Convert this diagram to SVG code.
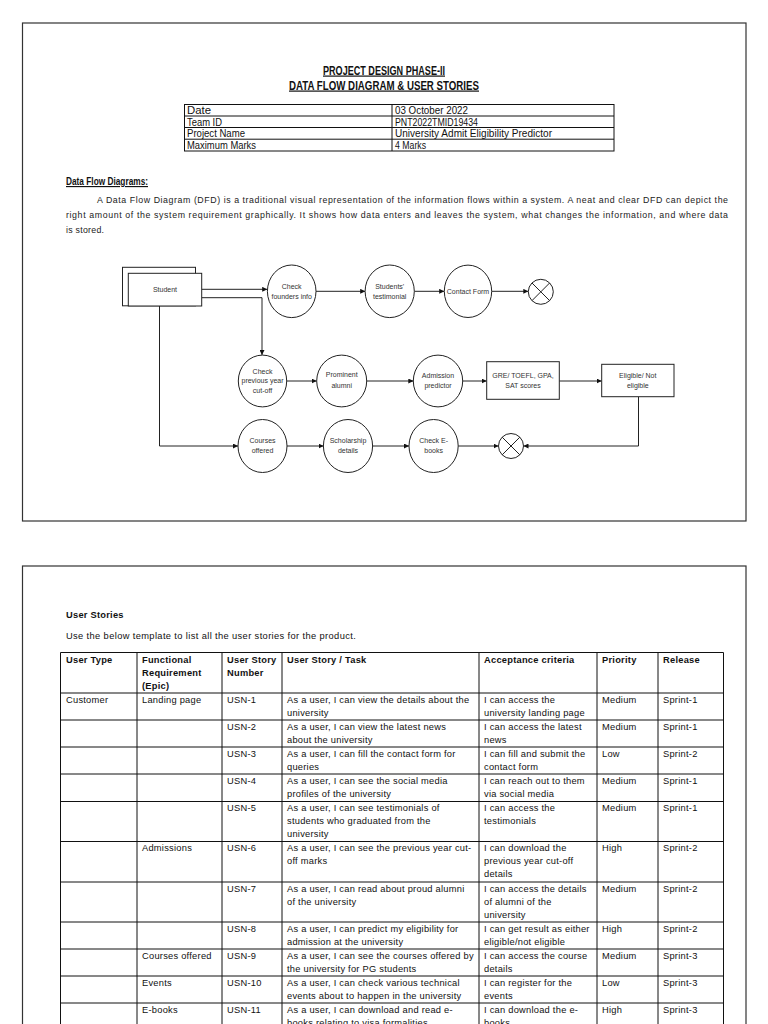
<svg xmlns="http://www.w3.org/2000/svg" width="768" height="1024" viewBox="0 0 768 1024">
<defs>
<marker id="arr" viewBox="0 0 6 6" refX="6" refY="3" markerWidth="5" markerHeight="5" markerUnits="userSpaceOnUse" orient="auto">
<path d="M0,0 L6,3 L0,6 z" fill="#111"/>
</marker>
</defs>
<style>
.frame{fill:#fff;stroke:#333;stroke-width:1.2}
.title{font-family:"Liberation Sans",Arial,sans-serif;font-weight:bold;font-size:12px;text-anchor:middle;text-decoration:underline;fill:#111}
.ht{font-family:"Liberation Sans",Arial,sans-serif;font-size:10.5px;fill:#111}
.grid{stroke:#111;stroke-width:1;fill:none}
.h2{font-family:"Liberation Sans",Arial,sans-serif;font-weight:bold;font-size:11.5px;text-decoration:underline;fill:#111}
.para{font-family:"Liberation Sans",Arial,sans-serif;font-size:8.8px;fill:#222}
.node{fill:#fff;stroke:#222;stroke-width:1}
.nt{font-family:"Liberation Sans",Arial,sans-serif;font-size:7px;fill:#333;text-anchor:middle}
.conn path{fill:none;stroke:#222;stroke-width:1;marker-end:url(#arr)}
.tb{font-family:"Liberation Sans",Arial,sans-serif;font-size:9.3px;letter-spacing:0.25px;fill:#111}
.tbh{font-family:"Liberation Sans",Arial,sans-serif;font-size:9.3px;letter-spacing:0.25px;font-weight:bold;fill:#111}
</style>
<rect width="768" height="1024" fill="#fff"/>

<!-- Page 1 -->
<rect class="frame" x="22.5" y="23" width="723.5" height="498"/>
<text class="title" x="384" y="74.5" textLength="122" lengthAdjust="spacingAndGlyphs">PROJECT DESIGN PHASE-II</text>
<text class="title" x="384" y="89.5" textLength="190" lengthAdjust="spacingAndGlyphs">DATA FLOW DIAGRAM &amp; USER STORIES</text>

<g id="header-table">
<rect class="grid" x="184.5" y="104.5" width="429.5" height="46.5"/>
<path class="grid" d="M392,104.5 V151 M184.5,116 H614 M184.5,127.5 H614 M184.5,139.2 H614"/>
<text class="ht" x="187" y="114" textLength="24" lengthAdjust="spacingAndGlyphs">Date</text>
<text class="ht" x="187" y="125.5" textLength="35" lengthAdjust="spacingAndGlyphs">Team ID</text>
<text class="ht" x="187" y="137" textLength="58" lengthAdjust="spacingAndGlyphs">Project Name</text>
<text class="ht" x="187" y="148.5" textLength="69" lengthAdjust="spacingAndGlyphs">Maximum Marks</text>
<text class="ht" x="395" y="114" textLength="73" lengthAdjust="spacingAndGlyphs">03 October 2022</text>
<text class="ht" x="395" y="125.5" textLength="83" lengthAdjust="spacingAndGlyphs">PNT2022TMID19434</text>
<text class="ht" x="395" y="137" textLength="157" lengthAdjust="spacingAndGlyphs">University Admit Eligibility Predictor</text>
<text class="ht" x="395" y="148.5" textLength="31" lengthAdjust="spacingAndGlyphs">4 Marks</text>
</g>

<text class="h2" x="66" y="185" textLength="82" lengthAdjust="spacingAndGlyphs">Data Flow Diagrams:</text>
<text class="para" x="97" y="203" textLength="631" lengthAdjust="spacing">A Data Flow Diagram (DFD) is a traditional visual representation of the information flows within a system. A neat and clear DFD can depict the</text>
<text class="para" x="66" y="218" textLength="662" lengthAdjust="spacing">right amount of the system requirement graphically. It shows how data enters and leaves the system, what changes the information, and where data</text>
<text class="para" x="66" y="233" textLength="38" lengthAdjust="spacing">is stored.</text>

<!-- DFD connectors -->
<g id="connectors" class="conn">
<path d="M201.7,289.3 H267.2"/>
<path d="M201.7,297.7 H262 V355"/>
<path d="M159.5,306 V446 H238"/>
<path d="M316,291.3 H365.2"/>
<path d="M414.3,291.3 H444.2"/>
<path d="M491.7,291.3 H528.3"/>
<path d="M287,381 H316.7"/>
<path d="M366.7,381 H413.3"/>
<path d="M462.7,381 H486.7"/>
<path d="M559.3,381 H601.7"/>
<path d="M638.5,396.7 V446 H523.5"/>
<path d="M287,446 H323.5"/>
<path d="M372.7,446 H409"/>
<path d="M458.2,446 H498.5"/>
</g>

<!-- DFD nodes -->
<g id="student">
<rect class="node" x="122.5" y="267.3" width="73" height="38.5"/>
<rect class="node" x="128.3" y="273.3" width="73.4" height="32.7"/>
<text class="nt" x="165" y="291.5">Student</text>
</g>
<g id="check-founders">
<ellipse class="node" cx="291.7" cy="291.3" rx="24.3" ry="26.3"/>
<text class="nt" x="291.7" y="289.3">Check</text>
<text class="nt" x="291.7" y="299.3">founders info</text>
</g>
<g id="students-testimonial">
<ellipse class="node" cx="389.7" cy="291.3" rx="24.6" ry="26.3"/>
<text class="nt" x="389.7" y="289.3">Students'</text>
<text class="nt" x="389.7" y="299.3">testimonial</text>
</g>
<g id="contact-form">
<ellipse class="node" cx="468" cy="291.3" rx="23.7" ry="26.2"/>
<text class="nt" x="468" y="293.8">Contact Form</text>
</g>
<g id="end-1">
<circle class="node" cx="540.8" cy="291.8" r="12.5"/>
<path class="node" d="M532,283 L549.6,300.6 M549.6,283 L532,300.6"/>
</g>
<g id="check-previous">
<ellipse class="node" cx="262.5" cy="381" rx="24.2" ry="25.9"/>
<text class="nt" x="262.5" y="373.8">Check</text>
<text class="nt" x="262.5" y="383">previous year</text>
<text class="nt" x="262.5" y="392.8">cut-off</text>
</g>
<g id="prominent-alumni">
<ellipse class="node" cx="341.7" cy="381" rx="25" ry="25.9"/>
<text class="nt" x="341.7" y="376.5">Prominent</text>
<text class="nt" x="341.7" y="388">alumni</text>
</g>
<g id="admission-predictor">
<ellipse class="node" cx="438" cy="381" rx="24.7" ry="25.9"/>
<text class="nt" x="438" y="377.5">Admission</text>
<text class="nt" x="438" y="387.5">predictor</text>
</g>
<g id="scores">
<rect class="node" x="486.7" y="361.7" width="72.6" height="37.6"/>
<text class="nt" x="523" y="377.5">GRE/ TOEFL, GPA,</text>
<text class="nt" x="523" y="387.5">SAT scores</text>
</g>
<g id="eligible">
<rect class="node" x="601.7" y="364.3" width="72.3" height="32.4"/>
<text class="nt" x="637.8" y="377.5">Eligible/ Not</text>
<text class="nt" x="637.8" y="387.5">eligible</text>
</g>
<g id="courses-offered">
<ellipse class="node" cx="262.5" cy="446" rx="24.5" ry="26.5"/>
<text class="nt" x="262.5" y="442.5">Courses</text>
<text class="nt" x="262.5" y="452.5">offered</text>
</g>
<g id="scholarship-details">
<ellipse class="node" cx="348" cy="446" rx="24.6" ry="26.5"/>
<text class="nt" x="348" y="442.5">Scholarship</text>
<text class="nt" x="348" y="452.5">details</text>
</g>
<g id="check-ebooks">
<ellipse class="node" cx="433.6" cy="446" rx="24.6" ry="26.5"/>
<text class="nt" x="433.6" y="442.5">Check E-</text>
<text class="nt" x="433.6" y="452.5">books</text>
</g>
<g id="end-2">
<circle class="node" cx="511" cy="446" r="12.5"/>
<path class="node" d="M502.2,437.2 L519.8,454.8 M519.8,437.2 L502.2,454.8"/>
</g>

<!-- Page 2 -->
<rect class="frame" x="22.5" y="566" width="723.5" height="470"/>
<text class="tbh" x="66" y="618">User Stories</text>
<text class="tb" x="66" y="639" textLength="290" lengthAdjust="spacing">Use the below template to list all the user stories for the product.</text>

<g id="user-stories-table">
<path class="grid" d="M60.5,652.5 H723.5 M60.5,693 H723.5 M60.5,720 H723.5 M60.5,747 H723.5 M60.5,774 H723.5 M60.5,801.5 H723.5 M60.5,841.5 H723.5 M60.5,882 H723.5 M60.5,922 H723.5 M60.5,949 H723.5 M60.5,976 H723.5 M60.5,1003 H723.5
M60.5,652.5 V1030 M137,652.5 V1030 M222,652.5 V1030 M282,652.5 V1030 M479,652.5 V1030 M597,652.5 V1030 M658,652.5 V1030 M723.5,652.5 V1030"/>
<text class="tbh" x="66" y="663">User Type</text>
<text class="tbh" x="142" y="663">Functional</text>
<text class="tbh" x="142" y="676">Requirement</text>
<text class="tbh" x="142" y="689">(Epic)</text>
<text class="tbh" x="227" y="663">User Story</text>
<text class="tbh" x="227" y="676">Number</text>
<text class="tbh" x="287" y="663">User Story / Task</text>
<text class="tbh" x="484" y="663">Acceptance criteria</text>
<text class="tbh" x="602" y="663">Priority</text>
<text class="tbh" x="663" y="663">Release</text>

<text class="tb" x="66" y="703">Customer</text>
<text class="tb" x="142" y="703">Landing page</text>
<text class="tb" x="227" y="703">USN-1</text>
<text class="tb" x="287" y="703">As a user, I can view the details about the</text>
<text class="tb" x="287" y="716">university</text>
<text class="tb" x="484" y="703">I can access the</text>
<text class="tb" x="484" y="716">university landing page</text>
<text class="tb" x="602" y="703">Medium</text>
<text class="tb" x="663" y="703">Sprint-1</text>

<text class="tb" x="227" y="730">USN-2</text>
<text class="tb" x="287" y="730">As a user, I can view the latest news</text>
<text class="tb" x="287" y="743">about the university</text>
<text class="tb" x="484" y="730">I can access the latest</text>
<text class="tb" x="484" y="743">news</text>
<text class="tb" x="602" y="730">Medium</text>
<text class="tb" x="663" y="730">Sprint-1</text>

<text class="tb" x="227" y="757">USN-3</text>
<text class="tb" x="287" y="757">As a user, I can fill the contact form for</text>
<text class="tb" x="287" y="770">queries</text>
<text class="tb" x="484" y="757">I can fill and submit the</text>
<text class="tb" x="484" y="770">contact form</text>
<text class="tb" x="602" y="757">Low</text>
<text class="tb" x="663" y="757">Sprint-2</text>

<text class="tb" x="227" y="784">USN-4</text>
<text class="tb" x="287" y="784">As a user, I can see the social media</text>
<text class="tb" x="287" y="797">profiles of the university</text>
<text class="tb" x="484" y="784">I can reach out to them</text>
<text class="tb" x="484" y="797">via social media</text>
<text class="tb" x="602" y="784">Medium</text>
<text class="tb" x="663" y="784">Sprint-1</text>

<text class="tb" x="227" y="811">USN-5</text>
<text class="tb" x="287" y="811">As a user, I can see testimonials of</text>
<text class="tb" x="287" y="824">students who graduated from the</text>
<text class="tb" x="287" y="837">university</text>
<text class="tb" x="484" y="811">I can access the</text>
<text class="tb" x="484" y="824">testimonials</text>
<text class="tb" x="602" y="811">Medium</text>
<text class="tb" x="663" y="811">Sprint-1</text>

<text class="tb" x="142" y="851">Admissions</text>
<text class="tb" x="227" y="851">USN-6</text>
<text class="tb" x="287" y="851">As a user, I can see the previous year cut-</text>
<text class="tb" x="287" y="864">off marks</text>
<text class="tb" x="484" y="851">I can download the</text>
<text class="tb" x="484" y="864">previous year cut-off</text>
<text class="tb" x="484" y="877">details</text>
<text class="tb" x="602" y="851">High</text>
<text class="tb" x="663" y="851">Sprint-2</text>

<text class="tb" x="227" y="892">USN-7</text>
<text class="tb" x="287" y="892">As a user, I can read about proud alumni</text>
<text class="tb" x="287" y="905">of the university</text>
<text class="tb" x="484" y="892">I can access the details</text>
<text class="tb" x="484" y="905">of alumni of the</text>
<text class="tb" x="484" y="918">university</text>
<text class="tb" x="602" y="892">Medium</text>
<text class="tb" x="663" y="892">Sprint-2</text>

<text class="tb" x="227" y="932">USN-8</text>
<text class="tb" x="287" y="932">As a user, I can predict my eligibility for</text>
<text class="tb" x="287" y="945">admission at the university</text>
<text class="tb" x="484" y="932">I can get result as either</text>
<text class="tb" x="484" y="945">eligible/not eligible</text>
<text class="tb" x="602" y="932">High</text>
<text class="tb" x="663" y="932">Sprint-2</text>

<text class="tb" x="142" y="959">Courses offered</text>
<text class="tb" x="227" y="959">USN-9</text>
<text class="tb" x="287" y="959">As a user, I can see the courses offered by</text>
<text class="tb" x="287" y="972">the university for PG students</text>
<text class="tb" x="484" y="959">I can access the course</text>
<text class="tb" x="484" y="972">details</text>
<text class="tb" x="602" y="959">Medium</text>
<text class="tb" x="663" y="959">Sprint-3</text>

<text class="tb" x="142" y="986">Events</text>
<text class="tb" x="227" y="986">USN-10</text>
<text class="tb" x="287" y="986">As a user, I can check various technical</text>
<text class="tb" x="287" y="999">events about to happen in the university</text>
<text class="tb" x="484" y="986">I can register for the</text>
<text class="tb" x="484" y="999">events</text>
<text class="tb" x="602" y="986">Low</text>
<text class="tb" x="663" y="986">Sprint-3</text>

<text class="tb" x="142" y="1013">E-books</text>
<text class="tb" x="227" y="1013">USN-11</text>
<text class="tb" x="287" y="1013">As a user, I can download and read e-</text>
<text class="tb" x="287" y="1025.5">books relating to visa formalities</text>
<text class="tb" x="484" y="1013">I can download the e-</text>
<text class="tb" x="484" y="1025.5">books</text>
<text class="tb" x="602" y="1013">High</text>
<text class="tb" x="663" y="1013">Sprint-3</text>
</g>
</svg>
